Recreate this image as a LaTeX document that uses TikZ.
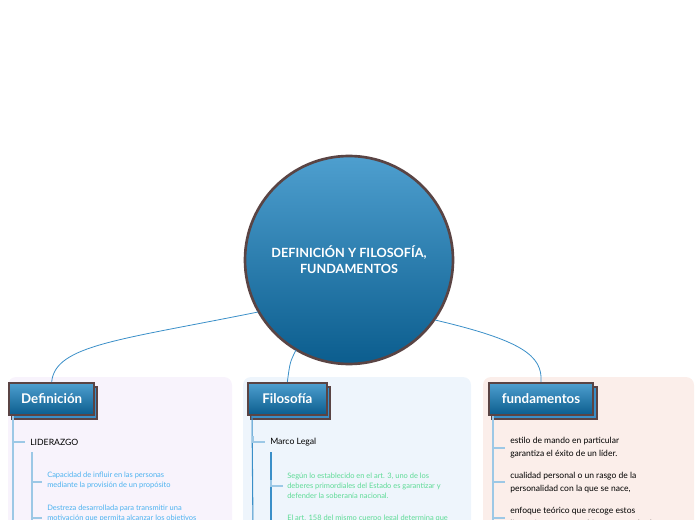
\documentclass[tikz,border=0pt]{standalone}
\usepackage{fontspec}
\setmainfont{Lato}
\usetikzlibrary{positioning}
\definecolor{topblue}{HTML}{4E9FCF}
\definecolor{botblue}{HTML}{0B5D8E}
\definecolor{rimbrown}{HTML}{5A4444}
\definecolor{linkblue}{HTML}{3A8FC8}
\definecolor{lineblue}{HTML}{9CC8E6}
\definecolor{skytext}{HTML}{4DB3F0}
\definecolor{mintext}{HTML}{5EDB96}
\tikzset{
  header/.style={draw=rimbrown, line width=1.5pt, top color=topblue, bottom color=botblue,
    text=white, font=\bfseries\fontsize{10}{12}\selectfont, minimum height=24pt, inner xsep=8pt, anchor=north west},
  panel/.style={rounded corners=6pt, draw=none},
  branch/.style={draw=lineblue, line width=0.8pt},
  link/.style={draw=linkblue, line width=0.6pt},
  topic/.style={font=\fontsize{6.5}{8}\selectfont, anchor=west, inner sep=0pt},
  item/.style={font=\fontsize{5.6}{7.4}\selectfont, align=left, anchor=north west, inner sep=0pt}
}
\begin{document}
\begin{tikzpicture}[x=0.75pt,y=-0.75pt]
  \useasboundingbox (0,0) rectangle (696,520);
  \clip (0,0) rectangle (696,520);
  % paneles
  \fill[panel, fill={rgb,255:red,248;green,243;blue,252}] (8,377) rectangle (232,540);
  \fill[panel, fill={rgb,255:red,238;green,245;blue,252}] (243,377) rectangle (471,540);
  \fill[panel, fill={rgb,255:red,251;green,238;blue,234}] (483,377) rectangle (694,540);
  % nodo central
  \node[circle, draw=rimbrown, line width=2pt, top color=topblue, bottom color=botblue,
    minimum size=156pt, text=white, align=center, font=\bfseries\fontsize{9.5}{12}\selectfont]
    (root) at (349,260) {DEFINICIÓN Y FILOSOFÍA,\\FUNDAMENTOS};
  % encabezados (con sombra)
  \fill[linkblue, draw=rimbrown, line width=1.5pt] (12,387) rectangle (97,419);
  \node[header, minimum width=64pt] (def) at (8,382) {Definición};
  \fill[linkblue, draw=rimbrown, line width=1.5pt] (251,387) rectangle (330,419);
  \node[header, minimum width=59pt] (fil) at (247,382) {Filosofía};
  \fill[linkblue, draw=rimbrown, line width=1.5pt] (492,387) rectangle (597,419);
  \node[header, minimum width=78pt] (fun) at (488,382) {fundamentos};
  % enlaces
  \draw[link] (258,312) .. controls (120,340) and (55,345) .. (def.north);
  \draw[link] (296,350) .. controls (290,362) .. (fil.north);
  \draw[link] (435,320) .. controls (520,340) and (543,355) .. (fun.north);
  % Definición
  \draw[branch] (def.south west) ++(5,0) -- (13,530);
  \draw[branch] (13,436) |- (25,442);
  \node[topic] (lid) at (30,442) {LIDERAZGO};
  \draw[branch] (32,452) -- (32,530);
  \draw[branch] (32,476) |- (42,482);
  \draw[branch] (32,512) |- (42,518);
  \node[item, text=skytext] (d1) at (47,472) {Capacidad de influir en las personas\\mediante la provisión de un propósito};
  \node[item, text=skytext] (d2) at (47,505) {Destreza desarrollada para transmitir una\\motivación que permita alcanzar los objetivos};
  % Filosofía
  \draw[branch, draw=linkblue] (fil.south west) ++(5,0) -- (253,530);
  \draw[branch] (253,436) |- (265,442);
  \node[topic] (marco) at (270,442) {Marco Legal};
  \draw[branch, draw=linkblue] (271,452) -- (271,530);
  \draw[branch] (271,480) |- (283,486);
  \node[item, text=mintext] (f1) at (287,473) {Según lo establecido en el art. 3, uno de los\\deberes primordiales del Estado es garantizar y\\defender la soberanía nacional.};
  \node[item, text=mintext] (f2) at (287,515) {El art. 158 del mismo cuerpo legal determina que};
  % fundamentos
  \draw[branch] (fun.south west) ++(5,0) -- (493,530);
  \draw[branch] (493,442) |- (505,448);
  \draw[branch] (493,476) |- (505,482);
  \draw[branch] (493,512) |- (505,518);
  \node[item, font=\fontsize{6.4}{9.6}\selectfont] (u1) at (510,437) {estilo de mando en particular\\garantiza el éxito de un líder.};
  \node[item, font=\fontsize{6.4}{9.6}\selectfont] (u2) at (510,472) {cualidad personal o un rasgo de la\\personalidad con la que se nace,};
  \node[item, font=\fontsize{6.4}{9.6}\selectfont] (u3) at (510,507) {enfoque teórico que recoge estos\\lineamientos y que ubica a su resultado};
\end{tikzpicture}
\end{document}
